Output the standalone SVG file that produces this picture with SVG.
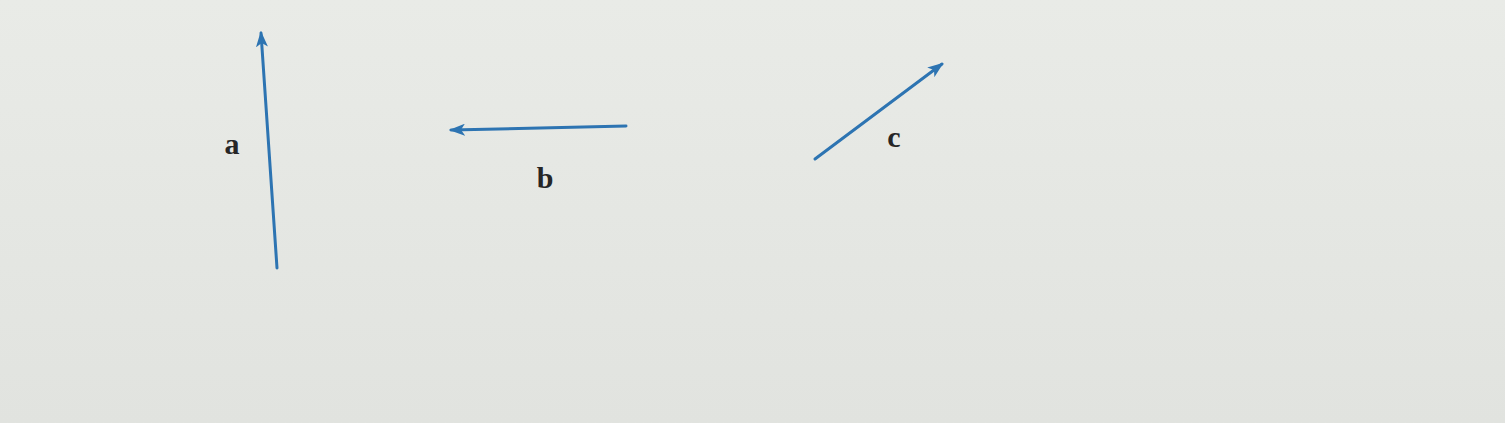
<svg xmlns="http://www.w3.org/2000/svg" width="1505" height="423" viewBox="0 0 1505 423">
<style>
.vec{stroke:#2d74b2;stroke-width:3;fill:none;stroke-linecap:round}
.lbl{font-family:"Liberation Serif",serif;font-weight:bold;font-size:30px;fill:#262626;text-anchor:middle}
</style>
<defs>
<marker id="ah" markerWidth="16" markerHeight="12" refX="14" refY="6" orient="auto" markerUnits="userSpaceOnUse">
<path d="M0,0 L16,6 L0,12 L4,6 Z" fill="#2d74b2"/>
</marker>
<linearGradient id="bg" x1="0" y1="0" x2="0" y2="1">
<stop offset="0" stop-color="#e9ebe7"/>
<stop offset="1" stop-color="#e1e3df"/>
</linearGradient>
</defs>
<rect width="1505" height="423" fill="url(#bg)"/>
<g id="connectors">
<line class="vec" x1="277" y1="268" x2="261" y2="33" marker-end="url(#ah)"/>
<line class="vec" x1="626" y1="126" x2="451" y2="130" marker-end="url(#ah)"/>
<line class="vec" x1="815" y1="159" x2="942" y2="64" marker-end="url(#ah)"/>
</g>
<g id="label-a"><text class="lbl" x="232" y="154">a</text></g>
<g id="label-b"><text class="lbl" x="545" y="188">b</text></g>
<g id="label-c"><text class="lbl" x="894" y="147">c</text></g>
</svg>
